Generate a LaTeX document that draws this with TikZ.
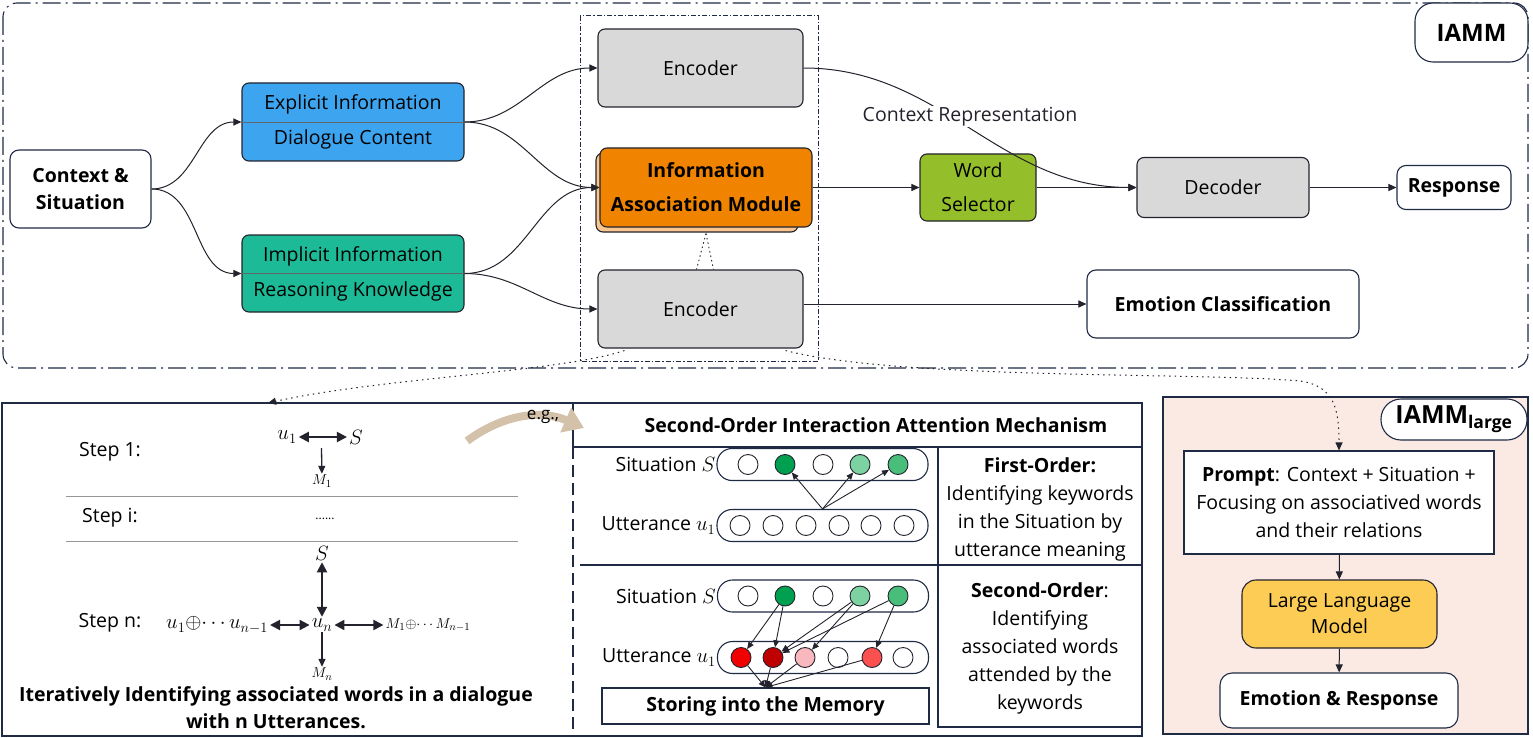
\documentclass[tikz,border=0pt]{standalone}
\usepackage{fontspec}
\setmainfont{Open Sans}
\usetikzlibrary{arrows.meta, positioning, calc, shapes}

\definecolor{framec}{RGB}{31,42,68}
\definecolor{linec}{RGB}{35,35,45}
\definecolor{explc}{RGB}{61,165,240}
\definecolor{implc}{RGB}{29,186,151}
\definecolor{iamc}{RGB}{240,132,0}
\definecolor{iamback}{RGB}{248,198,142}
\definecolor{encc}{RGB}{217,217,217}
\definecolor{wsc}{RGB}{148,190,42}
\definecolor{llmc}{RGB}{253,204,84}
\definecolor{pinkc}{RGB}{251,234,228}
\definecolor{tanc}{RGB}{212,193,170}
\definecolor{gdark}{RGB}{0,160,80}
\definecolor{gmid}{RGB}{72,190,122}
\definecolor{glight}{RGB}{124,210,160}
\definecolor{rbright}{RGB}{240,0,0}
\definecolor{rdark}{RGB}{190,0,0}
\definecolor{rpale}{RGB}{248,184,190}
\definecolor{rlight}{RGB}{250,80,80}
\definecolor{sepc}{RGB}{150,150,150}

\newcommand{\boxfont}{\fontsize{19.5}{27}\selectfont}

\begin{document}
\begin{tikzpicture}[x=1pt, y=-1pt, >={Triangle[length=8pt,width=7pt]},
  box/.style={draw=linec, line width=1.1pt, rounded corners=7pt, align=center, font=\boxfont, inner sep=2pt},
  wbox/.style={box, draw=framec, fill=white, rounded corners=9pt, font=\boxfont\bfseries},
  encbox/.style={box, fill=encc, minimum width=205pt, minimum height=78pt},
  con/.style={->, line width=1pt, linec},
  sm/.style={-{Triangle[length=7pt,width=6pt]}, line width=0.9pt, linec},
  dblarrow/.style={{Triangle[length=10pt,width=10pt]}-{Triangle[length=10pt,width=10pt]}, line width=2pt, linec, shorten <=1pt, shorten >=1pt},
  wordcirc/.style={circle, draw=linec, line width=0.9pt, minimum size=20pt, inner sep=0pt},
  pill/.style={draw=framec, line width=1.1pt, rounded corners=15pt, minimum width=211pt, minimum height=32pt},
  txt/.style={font=\boxfont, align=center, inner sep=1pt},
  mth/.style={font=\fontsize{22}{24}\selectfont, inner sep=1pt},
  msmall/.style={font=\fontsize{15}{17}\selectfont, inner sep=1pt},
  dotline/.style={line width=1pt, linec, dash pattern=on 1.5pt off 4pt},
]
\useasboundingbox (0,0) rectangle (1533,738);

% upper part: IAMM
\draw[framec, line width=1.1pt, rounded corners=14pt, dash pattern=on 18pt off 5pt on 2pt off 5pt] (3,3) rectangle (1528,368);
\draw[framec, line width=1pt, dash pattern=on 5pt off 2pt on 1.5pt off 2pt] (580,16) rectangle (818,361);

\node[wbox, minimum width=141pt, minimum height=78pt] (ctx) at (80.5,189) {Context \&\\Situation};
\node[box, fill=explc, minimum width=222pt, minimum height=78pt, font=\fontsize{19.5}{35}\selectfont] (expl) at (353,122) {Explicit Information\\Dialogue Content};
\draw[linec!70, line width=0.8pt] (expl.west) -- (expl.east);
\node[box, fill=implc, minimum width=222pt, minimum height=77pt, font=\fontsize{19.5}{35}\selectfont] (impl) at (353,273.5) {Implicit Information\\Reasoning Knowledge};
\draw[linec!70, line width=0.8pt] (impl.west) -- (impl.east);

\node[encbox] (enc1) at (700.5,68) {Encoder};
\node[box, fill=iamback, minimum width=202pt, minimum height=79pt] (iamb) at (697,192.5) {};
\node[box, fill=iamc, minimum width=212pt, minimum height=79pt, font=\fontsize{19.5}{34}\selectfont\bfseries] (iam) at (706,187.5) {Information\\Association Module};
\node[encbox] (enc2) at (700.5,309) {Encoder};
\node[box, fill=wsc, minimum width=116pt, minimum height=67pt, font=\fontsize{19.5}{34}\selectfont] (ws) at (978,187.5) {Word\\Selector};
\node[box, fill=encc, minimum width=172pt, minimum height=60pt] (dec) at (1223,187.5) {Decoder};
\node[wbox, minimum width=114pt, minimum height=44pt] (resp) at (1454,187.5) {Response};
\node[wbox, minimum width=272pt, minimum height=68pt] (emo) at (1223,304) {Emotion Classification};
\node[wbox, rounded corners=18pt, minimum width=113pt, minimum height=59pt, font=\fontsize{24}{28}\selectfont\bfseries] (iamm) at (1471.5,32.5) {IAMM};

\draw[con] (ctx.east) to[out=0,in=180] (expl.west);
\draw[con] (ctx.east) to[out=0,in=180] (impl.west);
\draw[con] (expl.east) to[out=0,in=180] (enc1.west);
\draw[con] (expl.east) to[out=0,in=180] (iam.west);
\draw[con] (impl.east) to[out=0,in=180] (iam.west);
\draw[con] (impl.east) to[out=0,in=180] (enc2.west);
\draw[con] (enc1.east) to[out=0,in=180] node[txt, fill=white, yshift=11pt] (ctxrep) {Context Representation} (dec.west);
\draw[con] (iam.east) -- (ws.west);
\draw[con] (ws.east) -- (dec.west);
\draw[con] (dec.east) -- (resp.west);
\draw[con] (enc2.east |- emo.west) -- (emo.west);
\draw[linec, line width=0.9pt, dash pattern=on 1.5pt off 3pt] ($(iam.south)+(0,6)$) -- ($(enc2.north)+(-4,0)$);
\draw[linec, line width=0.9pt, dash pattern=on 1.5pt off 3pt] ($(iam.south)+(0,6)$) -- ($(enc2.north)+(13,0)$);

% lower left: iterative steps
\draw[framec, line width=1.1pt] (2,403) rectangle (1142,736);
\draw[framec, line width=1.1pt] (573,403) rectangle (1142,447);
\draw[framec, line width=1.1pt, dash pattern=on 12pt off 6pt] (573,447) -- (573,736);
\coordinate (stepin) at (268,403);

\node[txt] (st1) at (110,452) {Step 1:};
\node[mth] (u1) at (287,437) {$u_1$};
\node[mth] (s1) at (356,437) {$S$};
\draw[dblarrow] (u1) -- (s1);
\coordinate (c1) at ($(u1)!0.5!(s1)$);
\node[msmall] (m1) at (322,481) {$M_1$};
\draw[con, line width=1.3pt] ($(c1)+(0,11)$) -- (m1);
\draw[sepc, line width=1pt] (66,496) -- (518,496);
\node[txt] (sti) at (110,518) {Step i:};
\node[font=\fontsize{12}{14}\selectfont] (dots) at (325,519) {......};
\draw[sepc, line width=1pt] (66,541) -- (518,541);
\node[mth] (sn) at (322,553) {$S$};
\node[txt] (stn) at (110,623) {Step n:};
\node[mth] (un) at (322,625) {$u_n$};
\node[mth] (uprev) at (217,625) {$u_1{\oplus}{\cdots}\,u_{n-1}$};
\node[msmall] (mprev) at (428,625) {$M_1{\oplus}{\cdots}\,M_{n-1}$};
\draw[dblarrow] (sn) -- (un);
\draw[dblarrow] (uprev) -- (un);
\draw[dblarrow] (un) -- (mprev);
\node[msmall] (mn) at (322,674) {$M_n$};
\draw[con, line width=1.3pt] (un) -- (mn);
\node[txt, font=\fontsize{19.5}{27}\selectfont\bfseries] (iter) at (276,708) {Iteratively Identifying associated words in a dialogue\\with n Utterances.};

\draw[tanc, line width=8pt, -{Triangle[length=20pt,width=26pt]}] (467,441) to[bend left=30] (584,428);
\node[font=\fontsize{17}{20}\selectfont] (eg) at (543,417) {e.g.,};

% lower middle: second-order attention
\node[font=\boxfont\bfseries] (somh) at (876,425) {Second-Order Interaction Attention Mechanism};
\draw[framec, line width=1.1pt] (580,565) -- (1142,565);
\draw[framec, line width=1.1pt] (938,447) rectangle (1142,727);

\node[pill] (sit1) at (822.5,464.5) {};
\node[pill] (utt1) at (822.5,525.5) {};
\node[pill] (sit2) at (823,596) {};
\node[pill] (utt2) at (823,657.5) {};
\node[txt, anchor=east] (lsit1) at (sit1.west) {Situation $S$};
\node[txt, anchor=east] (lutt1) at (utt1.west) {Utterance $u_1$};
\node[txt, anchor=east] (lsit2) at (sit2.west) {Situation $S$};
\node[txt, anchor=east] (lutt2) at (utt2.west) {Utterance $u_1$};

\foreach \x/\c [count=\i] in {748/white,785/gdark,823/white,860/glight,898/gmid}
  \node[wordcirc, fill=\c] (sa\i) at (\x,464.5) {};
\foreach \x [count=\i] in {740,773,806,839,871,904}
  \node[wordcirc, fill=white] (ua\i) at (\x,525.5) {};
\foreach \x/\c [count=\i] in {748/white,785/gdark,823/white,860/glight,898/gmid}
  \node[wordcirc, fill=\c] (sb\i) at (\x,596) {};
\foreach \x/\c [count=\i] in {741/rbright,773/rdark,805/rpale,838/white,872/rlight,903/white}
  \node[wordcirc, fill=\c] (ub\i) at (\x,657.5) {};

\foreach \j in {2,4,5}
  \draw[sm] (utt1.north) -- (sa\j);
\foreach \a/\b in {2/1,2/2,4/2,4/3,5/2,5/5}
  \draw[sm] (sb\a) -- (ub\b);

\node[box, draw=framec, rounded corners=0pt, minimum width=327pt, minimum height=36pt, font=\boxfont\bfseries] (store) at (765.5,706) {Storing into the Memory};
\foreach \b in {1,2,3,5}
  \draw[sm] (ub\b) -- (store.north);

\node[txt, font=\fontsize{19.5}{28}\selectfont] (fo) at (1040,509) {\textbf{First-Order:}\\Identifying keywords\\in the Situation by\\utterance meaning};
\node[txt, font=\fontsize{19.5}{28}\selectfont] (so) at (1040,648) {\textbf{Second-Order}:\\Identifying\\associated words\\attended by the\\keywords};

% lower right: IAMM large
\draw[framec, line width=1.1pt, fill=pinkc] (1163,397) rectangle (1528,734);
\node[wbox, rounded corners=20pt, minimum width=146pt, minimum height=41pt, font=\fontsize{25}{28}\selectfont\bfseries] (iammL) at (1454,419.5) {IAMM\textsubscript{large}};
\node[box, draw=framec, rounded corners=0pt, fill=white, minimum width=310pt, minimum height=103pt, font=\fontsize{19.5}{28}\selectfont] (prompt) at (1339,502.5) {\textbf{Prompt}: Context + Situation +\\Focusing on associatived words\\and their relations};
\node[box, fill=llmc, rounded corners=14pt, minimum width=195pt, minimum height=68pt, font=\fontsize{19.5}{26}\selectfont] (llm) at (1339.5,614) {Large Language\\Model};
\node[wbox, rounded corners=12pt, minimum width=238pt, minimum height=55pt] (emr) at (1339,700.5) {Emotion \& Response};
\draw[con] (prompt) -- (llm);
\draw[con] (llm) -- (emr);

% dotted links from the encoder
\draw[dotline, ->] ($(enc2.south west)+(27,2)$) .. controls (560,372) and (380,378) .. (stepin);
\draw[dotline, ->] ($(enc2.south east)+(-18,2)$) .. controls (900,380) and (1200,372) .. (1300,381) .. controls (1335,386) and (1339,410) .. (prompt.north);
\end{tikzpicture}
\end{document}
